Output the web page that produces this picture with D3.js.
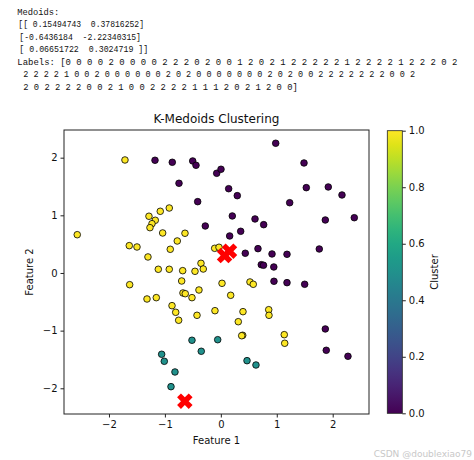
<!DOCTYPE html>
<html>
<head>
<meta charset="utf-8">
<script src="https://cdn.jsdelivr.net/npm/d3@7"></script>
<style>
  body { margin: 0; background: #fff; }
  svg text { font-family: "DejaVu Sans", sans-serif; }
  .console { font-family: "Liberation Mono", "DejaVu Sans Mono", monospace; font-size: 9px; fill: #111; white-space: pre; }
</style>
</head>
<body>
<script>

// console lines printed above the figure
var consoleLines = [
  "Medoids:",
  "[[ 0.15494743  0.37816252]",
  "[-0.6436184  -2.22340315]",
  "[ 0.06651722  0.3024719 ]]",
  "Labels: [0 0 0 0 2 0 0 0 0 2 2 2 0 2 0 0 1 2 0 2 1 2 2 2 2 2 1 2 2 2 2 1 2 2 2 0 2",
  "2 2 2 2 1 0 0 2 0 0 0 0 0 0 2 0 2 0 0 0 0 0 0 0 2 0 2 0 0 2 2 2 2 2 2 2 0 0 2",
  "2 0 2 2 2 2 0 0 2 1 0 0 2 2 2 2 1 1 1 2 0 2 1 2 0 0]"
]

// cluster 0 points
var c0x = [-1.177, -0.868, -0.503, -0.444, -0.074, 0.003, -0.748, -0.414, -0.278, 0.981,
           1.487, 0.140, 0.294, 1.528, 1.921, 2.166, 1.231, 0.205, 0.611, 0.766,
           1.868, 2.386, 0.355, 0.158, 0.437, 0.664, 0.915, 1.183, 1.760, 0.723,
           0.763, 0.947, 0.950, 1.183, 1.499, 1.868, 1.885, 2.273]
var c0y = [1.955, 1.920, 1.943, 1.868, 1.729, 1.799, 1.556, 1.237, 0.815, 2.250,
           1.908, 1.462, 1.341, 1.480, 1.492, 1.353, 1.219, 0.989, 0.937, 0.838,
           0.919, 0.959, 0.723, 0.642, 0.342, 0.422, 0.330, 0.324, 0.416, 0.144,
           0.134, 0.104, -0.144, -0.168, -0.196, -0.971, -1.341, -1.445]

// cluster 1 points
var c1x = [-0.516, -0.056, -0.350, 0.468, 0.628, -1.058, -1.011, -0.820, -0.891]
var c1y = [-1.167, -1.157, -1.358, -1.521, -1.596, -1.410, -1.532, -1.717, -1.972]

// cluster 2 points
var c2x = [-1.714, -0.922, -1.083, -1.285, -1.172, -1.231, -1.267, -2.567, -1.040, -0.641,
           -0.779, -1.637, -1.499, -0.904, -0.110, -0.033, -1.303, -0.355, -1.118, -0.922,
           -0.682, -0.462, -0.314, -0.700, 0.021, 0.521, 0.580, -1.630, -0.677, -0.636,
           -0.391, -0.516, 0.176, -1.320, -1.154, -0.873, -0.807, -0.754, -0.426, -0.105,
           0.396, 0.856, 0.861, 0.312, 0.391, 0.373, 1.134, 1.142]
var c2y = [1.960, 1.127, 1.070, 0.984, 0.914, 0.855, 0.786, 0.664, 0.694, 0.689,
           0.555, 0.474, 0.451, 0.411, 0.428, 0.446, 0.278, 0.168, 0.064, 0.064,
           0.040, 0.029, 0.069, -0.139, -0.179, -0.156, -0.196, -0.203, -0.347, -0.359,
           -0.295, -0.428, -0.387, -0.451, -0.428, -0.567, -0.682, -0.820, -0.734, -0.654,
           -0.671, -0.637, -0.734, -0.845, -1.081, -1.088, -1.070, -1.219]

// medoids
var medoidX = [0.15494743, -0.6436184, 0.06651722]
var medoidY = [0.37816252, -2.22340315, 0.3024719]

var xTicks = [-2, -1, 0, 1, 2]
var yTicks = [-2, -1, 0, 1, 2]
var cbarTicks = [0, 0.2, 0.4, 0.6, 0.8, 1.0]

var width = 474, height = 460
var plot = {left: 64, right: 369, top: 130, bottom: 414}

var svg = d3.select("body").append("svg")
            .attr("width", width)
            .attr("height", height)

// console text, stretched to the widths seen in the screenshot
var lineStarts = [17.3, 18.3, 19.3, 19.3, 17.3, 23.3, 23.3]
var lineEnds = [59.3, 144, 141, 148.3, 457.3, 415, 297.7]
var lineY = [14.5, 27, 39.5, 52, 64.5, 77, 89.5]
consoleLines.forEach(function(t, i) {
  svg.append("text")
     .attr("class", "console")
     .attr("xml:space", "preserve")
     .attr("x", lineStarts[i])
     .attr("y", lineY[i])
     .attr("textLength", lineEnds[i] - lineStarts[i])
     .attr("lengthAdjust", "spacingAndGlyphs")
     .text(t)
})

var x = d3.scaleLinear().domain([-2.804, 2.649]).range([plot.left, plot.right])
var y = d3.scaleLinear().domain([-2.446, 2.48]).range([plot.bottom, plot.top])

// cluster colour via viridis over 0..2
var color = function(c) { return d3.interpolateViridis(c / 2) }

var points = []
c0x.forEach(function(v, i) { points.push({x: v, y: c0y[i], c: 0}) })
c1x.forEach(function(v, i) { points.push({x: v, y: c1y[i], c: 1}) })
c2x.forEach(function(v, i) { points.push({x: v, y: c2y[i], c: 2}) })

var g = svg.append("g")

g.selectAll("circle")
  .data(points)
  .enter().append("circle")
  .attr("cx", function(d) { return x(d.x) })
  .attr("cy", function(d) { return y(d.y) })
  .attr("r", 3.3)
  .style("fill", function(d) { return color(d.c) })
  .style("stroke", "#000")
  .style("stroke-width", 0.8)

// matplotlib filled X marker
var xShape = [[-0.25,-0.5],[0,-0.25],[0.25,-0.5],[0.5,-0.25],[0.25,0],[0.5,0.25],
              [0.25,0.5],[0,0.25],[-0.25,0.5],[-0.5,0.25],[-0.25,0],[-0.5,-0.25]]
var mSize = 15.5
var markerPath = "M" + xShape.map(function(p) { return (p[0]*mSize) + "," + (p[1]*mSize) }).join("L") + "Z"

g.selectAll(".medoid")
  .data(medoidX)
  .enter().append("path")
  .attr("class", "medoid")
  .attr("d", markerPath)
  .attr("transform", function(d, i) { return "translate(" + x(d) + "," + y(medoidY[i]) + ")" })
  .style("fill", "red")

// frame
svg.append("rect")
   .attr("x", plot.left).attr("y", plot.top)
   .attr("width", plot.right - plot.left)
   .attr("height", plot.bottom - plot.top)
   .style("fill", "none").style("stroke", "#222").style("stroke-width", 1)

var fmt = d3.format("d")
var xAxis = svg.append("g")
   .attr("transform", "translate(0," + plot.bottom + ")")
   .call(d3.axisBottom(x).tickValues(xTicks).tickSize(3.5).tickPadding(3).tickFormat(fmt))
var yAxis = svg.append("g")
   .attr("transform", "translate(" + plot.left + ",0)")
   .call(d3.axisLeft(y).tickValues(yTicks).tickSize(3.5).tickPadding(3).tickFormat(fmt))
;[xAxis, yAxis].forEach(function(a) {
  a.select(".domain").remove()
  a.selectAll("text").style("font-size", "10px").style("fill", "#111")
  a.selectAll("line").style("stroke", "#222")
})

svg.append("text")
   .attr("x", (plot.left + plot.right) / 2).attr("y", 123)
   .attr("text-anchor", "middle").style("font-size", "12px").style("fill", "#111")
   .text("K-Medoids Clustering")

svg.append("text")
   .attr("x", (plot.left + plot.right) / 2).attr("y", 444)
   .attr("text-anchor", "middle").style("font-size", "10px").style("fill", "#111")
   .text("Feature 1")

svg.append("text")
   .attr("transform", "translate(33," + ((plot.top + plot.bottom) / 2) + ") rotate(-90)")
   .attr("text-anchor", "middle").style("font-size", "10px").style("fill", "#111")
   .text("Feature 2")

// colorbar
var cb = {left: 387.3, right: 402.3, top: 130.7, bottom: 413.3}
var cbScale = d3.scaleLinear().domain([0, 1]).range([cb.bottom, cb.top])

var defs = svg.append("defs")
var grad = defs.append("linearGradient")
   .attr("id", "viridis").attr("x1", 0).attr("y1", 1).attr("x2", 0).attr("y2", 0)
d3.range(0, 1.0001, 0.05).forEach(function(t) {
  grad.append("stop").attr("offset", t).attr("stop-color", d3.interpolateViridis(t))
})

svg.append("rect")
   .attr("x", cb.left).attr("y", cb.top)
   .attr("width", cb.right - cb.left).attr("height", cb.bottom - cb.top)
   .style("fill", "url(#viridis)").style("stroke", "#222").style("stroke-width", 0.8)

var cbAxis = svg.append("g")
   .attr("transform", "translate(" + cb.right + ",0)")
   .call(d3.axisRight(cbScale).tickValues(cbarTicks).tickSize(3.5).tickPadding(3).tickFormat(d3.format(".1f")))
cbAxis.select(".domain").remove()
cbAxis.selectAll("text").style("font-size", "10px").style("fill", "#111")
cbAxis.selectAll("line").style("stroke", "#222")

svg.append("text")
   .attr("transform", "translate(438," + ((cb.top + cb.bottom) / 2) + ") rotate(-90)")
   .attr("text-anchor", "middle").style("font-size", "10px").style("fill", "#111")
   .text("Cluster")

// watermark
svg.append("text")
   .attr("x", 472).attr("y", 457)
   .attr("text-anchor", "end").style("font-size", "9px").style("fill", "#c8c8c8")
   .text("CSDN @doublexiao79")

</script>
</body>
</html>
